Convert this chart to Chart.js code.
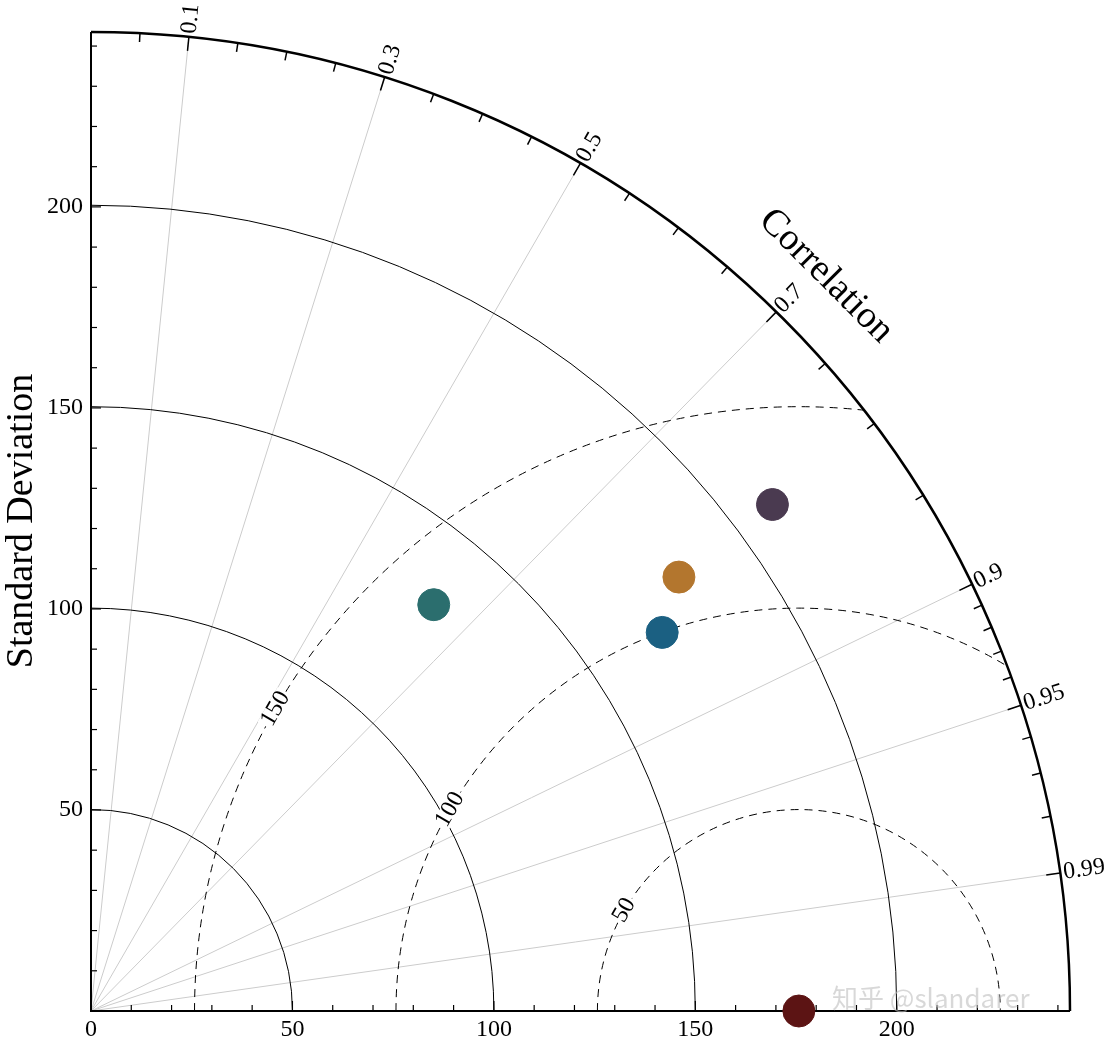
<!DOCTYPE html>
<html>
<head>
<meta charset="utf-8">
<script src="https://cdn.jsdelivr.net/npm/chart.js@4/dist/chart.umd.min.js"></script>
<style>
  body { margin: 0; background: #fff; }
</style>
</head>
<body>
<canvas id="taylor" width="1114" height="1046"></canvas>
<script>
// model points: standard deviation and correlation with the reference
const names = ["Ref", "M1", "M2", "M3", "M4"];
const stdDevs = [175.7, 132.1, 170.2, 181.5, 210.9];
const correlations = [1.0, 0.644, 0.833, 0.804, 0.802];
const colors = ["#5c1414", "#2b6e6e", "#1b6082", "#b3762e", "#4a3a50"];

const stdTicks = [50, 100, 150, 200];
const rmsCircles = [50, 100, 150];
const corrLabels = [0.1, 0.3, 0.5, 0.7, 0.9, 0.95, 0.99];
const maxStd = 243;

const refStd = stdDevs[0];
const FONT = '"Liberation Serif", "DejaVu Serif", serif';

const taylorGrid = {
  id: 'taylorGrid',
  beforeDatasetsDraw(chart) {
    const { ctx } = chart;
    const xs = chart.scales.x, ys = chart.scales.y;
    const ox = xs.getPixelForValue(0), oy = ys.getPixelForValue(0);
    const k = xs.getPixelForValue(1) - ox;
    const R = maxStd * k;
    const P = (r, a) => [ox + r * k * Math.cos(a), oy - r * k * Math.sin(a)];

    ctx.save();
    // correlation radial lines
    ctx.strokeStyle = '#cccccc';
    ctx.lineWidth = 1;
    corrLabels.forEach(c => {
      const [x, y] = P(maxStd, Math.acos(c));
      ctx.beginPath(); ctx.moveTo(ox, oy); ctx.lineTo(x, y); ctx.stroke();
    });

    // std arcs
    ctx.strokeStyle = '#000';
    ctx.lineWidth = 1;
    stdTicks.forEach(s => {
      ctx.beginPath(); ctx.arc(ox, oy, s * k, -Math.PI / 2, 0); ctx.stroke();
    });

    // RMS dashed circles, clipped to the quarter
    ctx.save();
    ctx.beginPath(); ctx.moveTo(ox, oy); ctx.arc(ox, oy, R, -Math.PI / 2, 0); ctx.closePath(); ctx.clip();
    const rx = xs.getPixelForValue(refStd);
    ctx.setLineDash([8, 6]);
    rmsCircles.forEach(r => {
      ctx.beginPath(); ctx.arc(rx, oy, r * k, Math.PI, 0); ctx.stroke();
    });
    ctx.restore();

    // RMS labels
    ctx.font = '24px ' + FONT;
    ctx.textAlign = 'center'; ctx.textBaseline = 'middle';
    rmsCircles.forEach(r => {
      const a = 150 * Math.PI / 180;
      const x = rx + r * k * Math.cos(a), y = oy - r * k * Math.sin(a);
      ctx.save(); ctx.translate(x, y); ctx.rotate(-Math.PI / 3);
      const w = ctx.measureText(String(r)).width;
      ctx.fillStyle = '#fff'; ctx.fillRect(-w / 2 - 2, -9, w + 4, 18);
      ctx.fillStyle = '#000'; ctx.fillText(String(r), 0, 0);
      ctx.restore();
    });

    // outer arc and axes
    ctx.lineWidth = 2.5;
    ctx.beginPath(); ctx.arc(ox, oy, R, -Math.PI / 2, 0); ctx.stroke();
    ctx.lineWidth = 2;
    ctx.beginPath(); ctx.moveTo(ox, oy - R); ctx.lineTo(ox, oy); ctx.lineTo(ox + R, oy); ctx.stroke();

    // axis ticks every 10
    ctx.lineWidth = 1.2;
    for (let v = 10; v < maxStd; v += 10) {
      const len = v % 50 === 0 ? 10 : 6;
      const px = xs.getPixelForValue(v), py = ys.getPixelForValue(v);
      ctx.beginPath(); ctx.moveTo(px, oy); ctx.lineTo(px, oy - len); ctx.stroke();
      ctx.beginPath(); ctx.moveTo(ox, py); ctx.lineTo(ox + len, py); ctx.stroke();
    }

    // correlation ticks on outer arc
    const tickC = [];
    for (let c = 0.05; c < 0.9; c += 0.05) tickC.push(+c.toFixed(2));
    for (let c = 0.9; c <= 0.995; c += 0.01) tickC.push(+c.toFixed(2));
    ctx.lineWidth = 1.5;
    tickC.forEach(c => {
      const a = Math.acos(c);
      const major = corrLabels.includes(c);
      const [x1, y1] = P(maxStd, a);
      const [x2, y2] = P(maxStd - (major ? 3.5 : 2.2), a);
      ctx.beginPath(); ctx.moveTo(x1, y1); ctx.lineTo(x2, y2); ctx.stroke();
    });

    // axis labels
    ctx.fillStyle = '#000';
    ctx.font = '24px ' + FONT;
    ctx.textAlign = 'center'; ctx.textBaseline = 'top';
    [0].concat(stdTicks).forEach(v => ctx.fillText(String(v), xs.getPixelForValue(v), oy + 7));
    ctx.textAlign = 'right'; ctx.textBaseline = 'middle';
    stdTicks.forEach(v => ctx.fillText(String(v), ox - 8, ys.getPixelForValue(v)));

    // correlation labels
    ctx.textAlign = 'left';
    corrLabels.forEach(c => {
      const a = Math.acos(c);
      const [x, y] = P(maxStd + 0.8, a);
      ctx.save(); ctx.translate(x, y); ctx.rotate(-a);
      ctx.fillText(String(c), 0, 0);
      ctx.restore();
    });

    // titles
    ctx.font = '38px ' + FONT;
    ctx.textAlign = 'center';
    const [tx, ty] = P(maxStd + 15, Math.PI / 4);
    ctx.save(); ctx.translate(tx, ty); ctx.rotate(Math.PI / 4);
    ctx.fillText('Correlation', 0, 0); ctx.restore();
    ctx.save(); ctx.translate(22, 521); ctx.rotate(-Math.PI / 2);
    ctx.fillText('Standard Deviation', 0, 0); ctx.restore();

    // watermark
    ctx.font = '26px "Noto Sans CJK SC", sans-serif';
    ctx.fillStyle = 'rgba(190,190,190,0.6)';
    ctx.textAlign = 'left';
    ctx.fillText('知乎 @slandarer', 832, 998);
    ctx.restore();
  }
};

new Chart(document.getElementById('taylor'), {
  type: 'scatter',
  data: {
    datasets: names.map((n, i) => ({
      label: n,
      data: [{ x: stdDevs[i] * correlations[i], y: stdDevs[i] * Math.sqrt(1 - correlations[i] ** 2) }],
      backgroundColor: colors[i],
      borderColor: colors[i],
      pointRadius: 16,
      pointHoverRadius: 16,
      clip: false
    }))
  },
  options: {
    responsive: false,
    animation: false,
    layout: { padding: { left: 91, right: 44, top: 34, bottom: 35 } },
    plugins: { legend: { display: false }, tooltip: { enabled: false } },
    scales: {
      x: { type: 'linear', min: 0, max: maxStd, display: false },
      y: { type: 'linear', min: 0, max: maxStd, display: false }
    }
  },
  plugins: [taylorGrid]
});
</script>
</body>
</html>
